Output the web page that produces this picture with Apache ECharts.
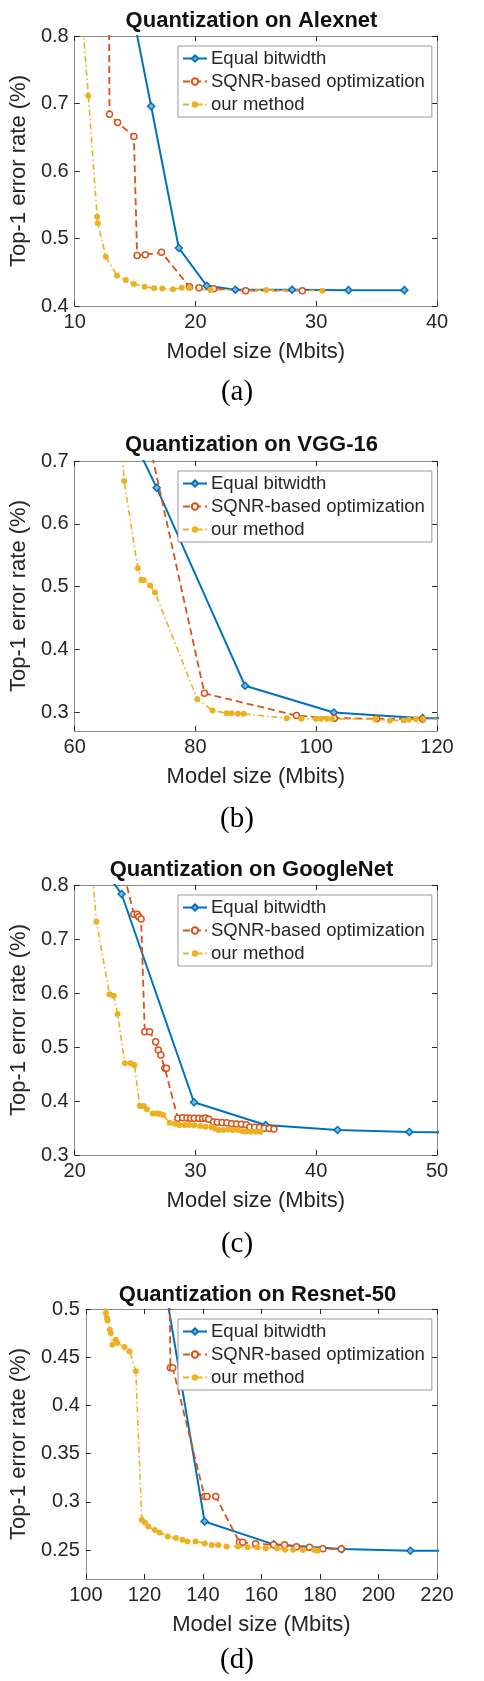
<!DOCTYPE html>
<html><head><meta charset="utf-8">
<script src="https://cdn.jsdelivr.net/npm/echarts@6/dist/echarts.min.js"></script>
<style>html,body{margin:0;padding:0;background:#fff}#c{width:484px;height:1681px}</style>
</head><body><div id="c"></div>
<script>
// ---- text ----
const seriesNames = ['Equal bitwidth', 'SQNR-based optimization', 'our method'];
const chartTitles = ['Quantization on Alexnet', 'Quantization on VGG-16', 'Quantization on GoogleNet', 'Quantization on Resnet-50'];
const captions = ['(a)', '(b)', '(c)', '(d)'];
const xAxisName = 'Model size (Mbits)';
const yAxisName = 'Top-1 error rate (%)';

// ---- axes ----
const xRanges = [[10, 40], [60, 120], [20, 50], [100, 220]];
const yRanges = [[0.4, 0.8], [0.27, 0.7], [0.3, 0.8], [0.22, 0.5]];
const xTicks = [[10, 20, 30, 40], [60, 80, 100, 120], [20, 30, 40, 50], [100, 120, 140, 160, 180, 200, 220]];
const yTicks = [[0.4, 0.5, 0.6, 0.7, 0.8], [0.3, 0.4, 0.5, 0.6, 0.7], [0.3, 0.4, 0.5, 0.6, 0.7, 0.8], [0.25, 0.3, 0.35, 0.4, 0.45, 0.5]];

// ---- data: [model size, error] ----
const alexnetEqual = [[13.96,0.91],[16.33,0.696],[18.62,0.486],[20.93,0.430],[23.3,0.424],[28.0,0.424],[32.67,0.4235],[37.3,0.4235]];
const alexnetSQNR = [[12.8,1.0],[12.88,0.684],[13.55,0.672],[14.9,0.651],[15.17,0.475],[15.84,0.476],[17.19,0.4795],[19.5,0.4286],[20.3,0.427],[21.5,0.4255],[24.16,0.4227],[28.85,0.4227]];
const alexnetOurs = [[10.6,0.83],[11.13,0.7116],[11.86,0.5323],[11.91,0.5225],[12.58,0.4731],[13.5,0.4449],[14.23,0.4385],[14.9,0.4326],[15.79,0.4286],[16.57,0.4262],[17.25,0.426],[18.13,0.4247],[18.86,0.4271],[19.5,0.4265],[21.23,0.4237],[25.86,0.4237],[30.52,0.4227]];

const vggEqual = [[58.9,0.95],[73.57,0.6575],[88.22,0.342],[102.92,0.2994],[117.62,0.2905],[132.3,0.289]];
const vggSQNR = [[70.5,0.81],[81.49,0.330],[96.72,0.2946],[103.0,0.2905],[110.0,0.2895],[117.6,0.289]];
const vggOurs = [[67.6,0.75],[68.19,0.668],[70.45,0.529],[71.04,0.5106],[71.42,0.5106],[72.49,0.5016],[73.3,0.4904],[80.3,0.3207],[82.83,0.3026],[85.15,0.2984],[85.96,0.2984],[87.04,0.2973],[88.0,0.2973],[95.1,0.2905],[97.54,0.2894],[99.96,0.2894],[100.8,0.2894],[101.8,0.2894],[102.65,0.2894],[109.75,0.289],[112.2,0.2867],[114.5,0.2867],[115.3,0.288],[116.5,0.289],[117.7,0.289],[125.0,0.2885]];

const googlenetEqual = [[17.9,0.9686],[23.88,0.7833],[29.88,0.3976],[35.81,0.3556],[41.76,0.3463],[47.71,0.3426],[53.66,0.342]];
const googlenetSQNR = [[23.9,0.837],[24.9,0.7457],[25.17,0.7457],[25.3,0.7413],[25.5,0.737],[25.8,0.5284],[26.2,0.5284],[26.7,0.5099],[26.92,0.4944],[27.13,0.4852],[27.46,0.4605],[27.6,0.4605],[28.54,0.368],[28.94,0.369],[29.3,0.3685],[29.6,0.368],[29.9,0.368],[30.28,0.368],[30.6,0.3675],[30.83,0.3685],[31.1,0.366],[31.5,0.361],[31.8,0.3605],[32.2,0.36],[32.6,0.3595],[33.0,0.358],[33.4,0.3575],[33.8,0.357],[34.2,0.356],[34.5,0.352],[34.9,0.3515],[35.3,0.351],[35.7,0.3495],[36.1,0.349],[36.5,0.348]];
const googlenetOurs = [[21.3,0.863],[21.8,0.732],[22.88,0.5975],[23.23,0.595],[23.55,0.5611],[24.15,0.4698],[24.63,0.4698],[24.95,0.4667],[25.39,0.3907],[25.71,0.3907],[25.98,0.3846],[26.46,0.377],[26.8,0.377],[27.05,0.3765],[27.33,0.374],[27.86,0.3599],[28.3,0.358],[28.67,0.3556],[29.1,0.3556],[29.48,0.3556],[29.9,0.355],[30.4,0.3535],[30.83,0.3525],[31.3,0.352],[31.6,0.349],[31.9,0.3463],[32.3,0.3465],[32.7,0.347],[33.1,0.3465],[33.52,0.3463],[33.9,0.344],[34.2,0.3435],[34.6,0.3432],[35.0,0.343],[35.4,0.3432]];

const resnetEqual = [[117.1,0.7026],[140.58,0.2797],[164.17,0.2559],[187.5,0.251],[210.9,0.2493],[234.3,0.249]];
const resnetSQNR = [[128.3,0.62],[128.9,0.439],[129.7,0.439],[140.58,0.3055],[141.4,0.3055],[144.4,0.3055],[152.5,0.258],[153.6,0.258],[158.0,0.2565],[164.17,0.2555],[167.9,0.2555],[172.0,0.2535],[176.4,0.2528],[181.0,0.2515],[187.3,0.251]];
const resnetOurs = [[106.6,0.505],[106.85,0.4959],[107.2,0.4907],[107.45,0.488],[108.2,0.4786],[108.55,0.475],[109.1,0.463],[110.2,0.468],[110.78,0.4648],[113.2,0.4607],[114.9,0.4562],[117.1,0.4355],[119.1,0.2814],[120.2,0.2787],[121.35,0.2745],[123.56,0.2707],[125.2,0.2683],[128.0,0.2642],[130.8,0.2624],[133.0,0.2607],[134.7,0.259],[137.5,0.259],[140.6,0.2569],[143.0,0.2552],[145.3,0.2552],[148.1,0.2538],[152.0,0.2538],[155.3,0.2528],[158.6,0.2528],[161.4,0.252],[165.3,0.252],[168.1,0.2503],[170.8,0.2503],[174.2,0.25],[178.1,0.25],[179.2,0.2493]];

const panelData = [
  [alexnetEqual, alexnetSQNR, alexnetOurs],
  [vggEqual, vggSQNR, vggOurs],
  [googlenetEqual, googlenetSQNR, googlenetOurs],
  [resnetEqual, resnetSQNR, resnetOurs]
];

// ---- layout (pixels) ----
const grids = [
  {left: 66, top: 36, width: 371, height: 270},
  {left: 66, top: 461, width: 371, height: 270},
  {left: 66, top: 885, width: 371, height: 270},
  {left: 78, top: 1309, width: 359, height: 270}
];
const titleTops = [10, 434, 859, 1284];
const captionY = [392, 819, 1244, 1660];

const SANS = '"Liberation Sans", Arial, Helvetica, sans-serif';
const AX = '#8a8a8a', TXT = '#262626';
const colors = ['#0072BD', '#D95319', '#EDB120'];

const option = {
  animation: false,
  backgroundColor: '#fff',
  textStyle: {fontFamily: SANS},
  grid: grids.map(g => Object.assign({containLabel: false}, g)),
  title: chartTitles.map((t, i) => ({
    text: t, left: grids[i].left + grids[i].width / 2, top: titleTops[i], textAlign: 'center', padding: 0,
    textStyle: {fontFamily: SANS, fontSize: 22, fontWeight: 'bold', color: '#111'}
  })),
  legend: grids.map((g, i) => ({
    data: seriesNames, orient: 'vertical', left: 178, top: g.top + 10,
    backgroundColor: '#fff', borderColor: '#999', borderWidth: 1, padding: [3, 7, 3, 4],
    itemGap: 4, itemWidth: 24, itemHeight: 8, selectedMode: false,
    textStyle: {fontFamily: SANS, fontSize: 18.5, color: TXT, padding: [0, 0, 0, -1]}
  })),
  xAxis: [],
  yAxis: [],
  series: [],
  graphic: captions.map((c, i) => ({
    type: 'text', left: 'auto', x: 237, y: captionY[i],
    style: {text: c, x: 0, y: 0, align: 'center', verticalAlign: 'middle', textAlign: 'center', textVerticalAlign: 'middle',
      font: '29px "Liberation Serif", "Times New Roman", serif', fill: '#000'}
  }))
};

grids.forEach((g, i) => {
  const tickStyle = {show: true, inside: true, length: 5, lineStyle: {color: TXT, width: 1}};
  const lineStyle = {show: true, onZero: false, lineStyle: {color: AX, width: 1}};
  option.xAxis.push({
    type: 'value', gridIndex: i, position: 'bottom', min: xRanges[i][0], max: xRanges[i][1],
    axisLine: lineStyle, splitLine: {show: false},
    axisTick: Object.assign({customValues: xTicks[i]}, tickStyle),
    axisLabel: {customValues: xTicks[i], fontSize: 20, color: TXT, margin: 6, fontFamily: SANS},
    name: xAxisName, nameLocation: 'middle', nameGap: 35,
    nameTextStyle: {fontSize: 22, color: TXT, fontFamily: SANS}
  });
  option.xAxis.push({
    type: 'value', gridIndex: i, position: 'top', min: xRanges[i][0], max: xRanges[i][1],
    axisLine: lineStyle, splitLine: {show: false},
    axisTick: Object.assign({customValues: xTicks[i]}, tickStyle),
    axisLabel: {show: false}
  });
  option.yAxis.push({
    type: 'value', gridIndex: i, position: 'left', min: yRanges[i][0], max: yRanges[i][1],
    axisLine: lineStyle, splitLine: {show: false},
    axisTick: Object.assign({customValues: yTicks[i]}, tickStyle),
    axisLabel: {customValues: yTicks[i], fontSize: 20, color: TXT, margin: 6, fontFamily: SANS},
    name: yAxisName, nameLocation: 'middle', nameRotate: 90, nameGap: g.left - 28,
    nameTextStyle: {fontSize: 22, color: TXT, fontFamily: SANS}
  });
  option.yAxis.push({
    type: 'value', gridIndex: i, position: 'right', min: yRanges[i][0], max: yRanges[i][1],
    axisLine: lineStyle, splitLine: {show: false},
    axisTick: Object.assign({customValues: yTicks[i]}, tickStyle),
    axisLabel: {show: false}
  });
  const d = panelData[i];
  option.series.push({
    name: seriesNames[0], type: 'line', xAxisIndex: 2 * i, yAxisIndex: 2 * i, data: d[0], clip: true,
    symbol: 'diamond', symbolSize: 7, color: colors[0],
    lineStyle: {color: colors[0], width: 2, type: 'solid'},
    itemStyle: {color: '#7fb3dc', borderColor: colors[0], borderWidth: 1.5}
  });
  option.series.push({
    name: seriesNames[1], type: 'line', xAxisIndex: 2 * i, yAxisIndex: 2 * i, data: d[1], clip: true,
    symbol: 'circle', symbolSize: 6, color: colors[1],
    lineStyle: {color: colors[1], width: 1.8, type: [7, 4]},
    itemStyle: {color: '#fff', borderColor: colors[1], borderWidth: 1.5}
  });
  option.series.push({
    name: seriesNames[2], type: 'line', xAxisIndex: 2 * i, yAxisIndex: 2 * i, data: d[2], clip: true,
    symbol: 'circle', symbolSize: 6, color: colors[2],
    lineStyle: {color: colors[2], width: 1.6, type: [6, 3, 1.5, 3]},
    itemStyle: {color: colors[2], borderColor: colors[2], borderWidth: 0}
  });
});

const chart = echarts.init(document.getElementById('c'), null, {renderer: 'canvas'});
chart.setOption(option);
</script>
</body></html>
